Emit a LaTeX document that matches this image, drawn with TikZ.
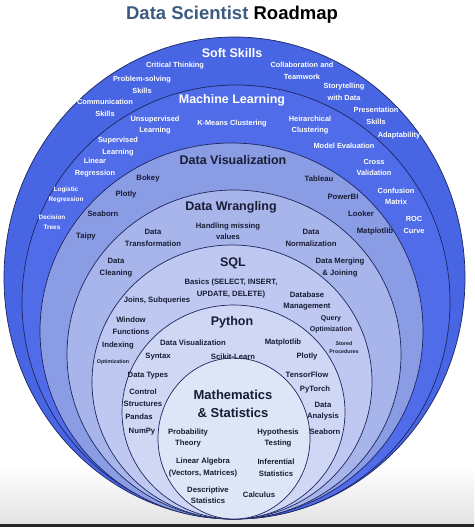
\documentclass[tikz,border=0pt]{standalone}
\usepackage{fontspec}
\setmainfont{Liberation Sans}
\newfontfamily\itemfont{Liberation Sans Bold}
\definecolor{softblue}{RGB}{72,101,228}
\definecolor{mlblue}{RGB}{80,108,232}
\definecolor{dvblue}{RGB}{138,156,228}
\definecolor{dwblue}{RGB}{168,181,235}
\definecolor{sqlblue}{RGB}{190,200,241}
\definecolor{pyblue}{RGB}{207,215,245}
\definecolor{mathblue}{RGB}{220,230,247}
\definecolor{ringline}{RGB}{28,38,96}
\definecolor{inkdark}{RGB}{24,28,52}
\definecolor{titleblue}{RGB}{60,90,128}

\tikzset{
    ring/.style={draw=ringline, line width=0.7pt},
    head/.style={font=\bfseries\fontsize{12.5}{17.5}\selectfont, text=inkdark, align=center},
    headw/.style={head, text=white},
    item/.style={font=\itemfont\fontsize{7.7}{11.5}\selectfont, text=inkdark, align=center, inner sep=0pt},
    itemw/.style={item, text=white, font=\itemfont\fontsize{7.4}{11.5}\selectfont},
    itemws/.style={itemw, font=\itemfont\fontsize{6.4}{10}\selectfont},
    itemq/.style={item, font=\itemfont\fontsize{7}{11}\selectfont},
    items/.style={item, font=\itemfont\fontsize{5.3}{8}\selectfont}
}

\begin{document}
\begin{tikzpicture}[x=1pt, y=-1pt]
    \useasboundingbox (0,0) rectangle (474,527);
    % Background
    \fill[white] (0,0) rectangle (474,527);
    \fill[top color=white, bottom color=black!11] (0,465) rectangle (474,524);
    \fill[black!85] (0,524) rectangle (474,527);

    % Title
    \node[font=\bfseries\fontsize{18.5}{22}\selectfont] (title) at (232,15)
        {\textcolor{titleblue}{Data Scientist} Roadmap};

    % Nested rings, outside in
    \filldraw[ring, fill=softblue] (234.5,278) ellipse [x radius=230.5pt, y radius=241pt];
    \filldraw[ring, fill=mlblue] (236,302) ellipse [x radius=214pt, y radius=217pt];
    \filldraw[ring, fill=dvblue] (231.5,331) ellipse [x radius=191.5pt, y radius=188pt];
    \filldraw[ring, fill=dwblue] (234,354.5) ellipse [x radius=167pt, y radius=164.5pt];
    \filldraw[ring, fill=sqlblue] (232,382) ellipse [x radius=140pt, y radius=137pt];
    \filldraw[ring, fill=pyblue] (233.5,412) ellipse [x radius=111.5pt, y radius=107pt];
    \filldraw[ring, fill=mathblue] (234,438.5) ellipse [x radius=76pt, y radius=80.5pt];

    % Soft Skills
    \node[headw] (soft) at (232,53) {Soft Skills};
    \node[itemw] (critical) at (175,66) {Critical Thinking};
    \node[itemw] (collab) at (302,71) {Collaboration and\\Teamwork};
    \node[itemw] (problem) at (142,85) {Problem-solving\\Skills};
    \node[itemw] (story) at (344,92) {Storytelling\\with Data};
    \node[itemw] (comm) at (105,108) {Communication\\Skills};
    \node[itemw] (present) at (376,116) {Presentation\\Skills};
    \node[itemw] (adapt) at (399,136) {Adaptability};

    % Machine Learning
    \node[headw] (ml) at (232,100) {Machine Learning};
    \node[itemw] (unsup) at (155,125) {Unsupervised\\Learning};
    \node[itemw] (kmeans) at (232,124) {K-Means Clustering};
    \node[itemw] (hier) at (310,125) {Heirarchical\\Clustering};
    \node[itemw] (sup) at (118,146.5) {Supervised\\Learning};
    \node[itemw] (linreg) at (95,167.5) {Linear\\Regression};
    \node[itemws] (logreg) at (66,195) {Logistic\\Regression};
    \node[itemws] (dtree) at (52,222) {Decision\\Trees};
    \node[itemw] (modeleval) at (344,146) {Model Evaluation};
    \node[itemw] (crossval) at (374,167.5) {Cross\\Validation};
    \node[itemw] (confusion) at (396,196.5) {Confusion\\Matrix};
    \node[itemw] (roc) at (414,225) {ROC\\Curve};

    % Data Visualization
    \node[head] (dv) at (233,160) {Data Visualization};
    \node[item] (bokey) at (148,179) {Bokey};
    \node[item] (plotlyA) at (126,195) {Plotly};
    \node[item] (seabornA) at (103,214) {Seaborn};
    \node[item] (taipy) at (86,237) {Taipy};
    \node[item] (tableau) at (319,179) {Tableau};
    \node[item] (powerbi) at (343,197) {PowerBI};
    \node[item] (looker) at (361,214) {Looker};
    \node[item] (matplotA) at (375,232) {Matplotlib};

    % Data Wrangling
    \node[head] (dw) at (231,207) {Data Wrangling};
    \node[item] (handling) at (228,231) {Handling missing\\values};
    \node[item] (transform) at (153,238) {Data\\Transformation};
    \node[item] (normal) at (311,238) {Data\\Normalization};
    \node[item] (cleaning) at (116,267.5) {Data\\Cleaning};
    \node[item] (merging) at (340,267.5) {Data Merging\\\& Joining};

    % SQL
    \node[head] (sql) at (233,263) {SQL};
    \node[item] (basics) at (231,288.5) {Basics (SELECT, INSERT,\\UPDATE, DELETE)};
    \node[item] (joins) at (157,301) {Joins, Subqueries};
    \node[item] (dbman) at (307,301) {Database\\Management};
    \node[item] (window) at (131,325.5) {Window\\Functions};
    \node[itemq] (query) at (331,324.5) {Query\\Optimization};
    \node[item] (indexing) at (118,346) {Indexing};
    \node[items] (optim) at (113,362) {Optimization};
    \node[items] (stored) at (344,348) {Stored\\Procedures};

    % Python
    \node[head] (py) at (232,322) {Python};
    \node[item] (pyvis) at (193,343) {Data Visualization};
    \node[item] (matplotB) at (283,343) {Matplotlib};
    \node[item] (syntax) at (158,357) {Syntax};
    \node[item] (sklearn) at (233,357) {Scikit-Learn};
    \node[item] (plotlyB) at (307,357) {Plotly};
    \node[item] (dtypes) at (148,376) {Data Types};
    \node[item] (tensor) at (307,375) {TensorFlow};
    \node[item] (control) at (143,397.5) {Control\\Structures};
    \node[item] (pytorch) at (315,390) {PyTorch};
    \node[item] (analysis) at (323,411) {Data\\Analysis};
    \node[item] (pandas) at (139,417) {Pandas};
    \node[item] (numpy) at (142,432) {NumPy};
    \node[item] (seabornB) at (325,432) {Seaborn};

    % Mathematics & Statistics
    \node[head, font=\bfseries\fontsize{13}{18}\selectfont] (math) at (233,404) {Mathematics\\\& Statistics};
    \node[item] (prob) at (188,438) {Probability\\Theory};
    \node[item] (hypo) at (278,438) {Hypothesis\\Testing};
    \node[item] (linalg) at (203,467.5) {Linear Algebra\\(Vectors, Matrices)};
    \node[item] (infer) at (276,467.5) {Inferential\\Statistics};
    \node[item] (descr) at (208,495) {Descriptive\\Statistics};
    \node[item] (calc) at (259,495) {Calculus};
\end{tikzpicture}
\end{document}
